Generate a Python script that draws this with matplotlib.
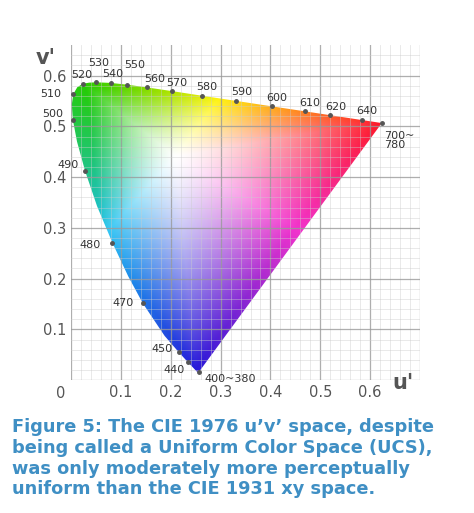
import matplotlib
matplotlib.use("Agg")
import matplotlib.pyplot as plt
import numpy as np
from matplotlib.path import Path
from matplotlib.patches import PathPatch

# spectral locus in u'v' (CIE 1976), nm
wavelengths = [380, 400, 420, 440, 450, 460, 470, 475, 480, 485, 490, 495, 500, 505,
               510, 515, 520, 525, 530, 540, 550, 560, 570, 580, 590, 600, 610, 620, 640, 700]
u_locus = [0.2568, 0.2563, 0.2522, 0.2347, 0.2161, 0.1877, 0.1441, 0.1147, 0.0828, 0.0521,
           0.0282, 0.0119, 0.0035, 0.0014, 0.0046, 0.0123, 0.0231, 0.0360, 0.0501, 0.0792,
           0.1127, 0.1531, 0.2026, 0.2623, 0.3315, 0.4035, 0.4692, 0.5203, 0.5830, 0.6234]
v_locus = [0.0166, 0.0161, 0.0169, 0.0350, 0.0549, 0.0871, 0.1510, 0.2044, 0.2708, 0.3427,
           0.4117, 0.4698, 0.5131, 0.5432, 0.5638, 0.5770, 0.5837, 0.5861, 0.5868, 0.5856,
           0.5821, 0.5766, 0.5694, 0.5604, 0.5501, 0.5393, 0.5296, 0.5219, 0.5125, 0.5065]

# labelled points: wavelength, label, text offset (points)
marked = [(400, "400~380", (4, -7)), (440, "440", (-18, -8)), (450, "450", (-20, 0)),
          (470, "470", (-22, -2)), (480, "480", (-24, -4)), (490, "490", (-20, 2)),
          (500, "500", (-22, 2)), (510, "510", (-24, -2)), (520, "520", (-8, 4)),
          (530, "530", (-6, 12)), (540, "540", (-6, 4)), (550, "550", (-2, 12)),
          (560, "560", (-2, 4)), (570, "570", (-4, 4)), (580, "580", (-4, 4)),
          (590, "590", (-4, 4)), (600, "600", (-4, 4)), (610, "610", (-4, 4)),
          (620, "620", (-4, 4)), (640, "640", (-4, 4)), (700, "700~\n780", (2, -18))]

fig = plt.figure(figsize=(4.74, 5.13), dpi=100)
ax = fig.add_axes([0.150, 0.259, 0.736, 0.653])
ax.set_xlim(0, 0.70)
ax.set_ylim(0, 0.66)

# colour fill: blend of primaries around a white point
n = 400
uu, vv = np.meshgrid(np.linspace(0, 0.70, n), np.linspace(0, 0.66, n))
W = np.array([0.21, 0.44])
corners = [np.array([0.62, 0.51]), np.array([0.03, 0.58]), np.array([0.25, 0.02])]
cols = [np.array([1.0, 0.1, 0.15]), np.array([0.15, 0.8, 0.0]), np.array([0.15, 0.1, 0.85])]
extra = [(np.array([0.06, 0.28]), np.array([0.1, 0.75, 0.95])),
         (np.array([0.30, 0.56]), np.array([1.0, 0.95, 0.0])),
         (np.array([0.45, 0.30]), np.array([0.95, 0.2, 0.8]))]
anchors = [corners[0], extra[1][0], corners[1], extra[0][0], corners[2], extra[2][0]]
acols = [cols[0], extra[1][1], cols[1], extra[0][1], cols[2], extra[2][1]]
ang = np.array([np.arctan2(a[1] - W[1], a[0] - W[0]) for a in anchors])
P = np.stack([uu - W[0], vv - W[1]], -1)
pa = np.arctan2(P[..., 1], P[..., 0])
rgb = np.ones(uu.shape + (3,))
order = np.argsort(ang)
ang_s = ang[order]
for k in range(len(order)):
    i, j = order[k], order[(k + 1) % len(order)]
    a0, a1 = ang_s[k], ang_s[(k + 1) % len(order)]
    if a1 <= a0:
        a1 += 2 * np.pi
    pp = np.where(pa < a0, pa + 2 * np.pi, pa)
    mask = (pp >= a0) & (pp < a1)
    A = np.column_stack([anchors[i] - W, anchors[j] - W])
    wts = P[mask] @ np.linalg.inv(A).T
    wts = np.clip(wts, 0, None)
    s = wts.sum(-1, keepdims=True)
    mix = (wts[:, :1] * acols[i] + wts[:, 1:] * acols[j]) / np.maximum(s, 1e-6)
    sat = np.clip(s, 0, 1) ** 1.3
    rgb[mask] = (1 - sat) * 1.0 + sat * mix
im = ax.imshow(np.clip(rgb, 0, 1), origin="lower", extent=(0, 0.70, 0, 0.66),
               aspect="auto", zorder=2, interpolation="bilinear")
poly = PathPatch(Path(np.column_stack([u_locus + [u_locus[0]], v_locus + [v_locus[0]]])),
                 facecolor="none", edgecolor="none", transform=ax.transData)
ax.add_patch(poly)
im.set_clip_path(poly)

# grid
ax.set_xticks(np.arange(0, 0.71, 0.1))
ax.set_yticks(np.arange(0, 0.61, 0.1))
ax.set_xticks(np.arange(0, 0.70, 0.02), minor=True)
ax.set_yticks(np.arange(0, 0.66, 0.02), minor=True)
ax.grid(True, which="major", color="#9a9a9a", lw=0.9, zorder=3, alpha=0.8)
ax.grid(True, which="minor", color="#cccccc", lw=0.6, zorder=3, alpha=0.5)
ax.set_axisbelow(False)
for s in ax.spines.values():
    s.set_visible(False)
ax.tick_params(which="both", length=0, colors="#555555", labelsize=10.5)
ax.set_xticklabels(["", "0.1", "0.2", "0.3", "0.4", "0.5", "0.6", ""])
ax.set_yticklabels(["", "0.1", "0.2", "0.3", "0.4", "0.5", "0.6"])
ax.text(-0.012, -0.012, "0", ha="right", va="top", color="#555555", fontsize=10.5)
ax.text(-0.03, 0.635, "v'", ha="right", va="center", color="#555555", fontsize=15, fontweight="bold")
ax.text(0.645, -0.005, "u'", ha="left", va="center", color="#555555", fontsize=15, fontweight="bold")

# marked wavelengths
for wl, lab, off in marked:
    i = wavelengths.index(wl)
    ax.plot(u_locus[i], v_locus[i], "o", ms=2.5, color="#555555", zorder=5)
    ax.annotate(lab, (u_locus[i], v_locus[i]), xytext=off, textcoords="offset points",
                fontsize=8, color="#333333", zorder=6, linespacing=0.9)

fig.text(0.025, 0.185, "Figure 5: The CIE 1976 u\u2019v\u2019 space, despite\n"
         "being called a Uniform Color Space (UCS),\n"
         "was only moderately more perceptually\n"
         "uniform than the CIE 1931 xy space.",
         ha="left", va="top", color="#3f8fc4", fontsize=12.8, fontweight="bold", linespacing=1.2)

fig.savefig("out.png", dpi=100)
